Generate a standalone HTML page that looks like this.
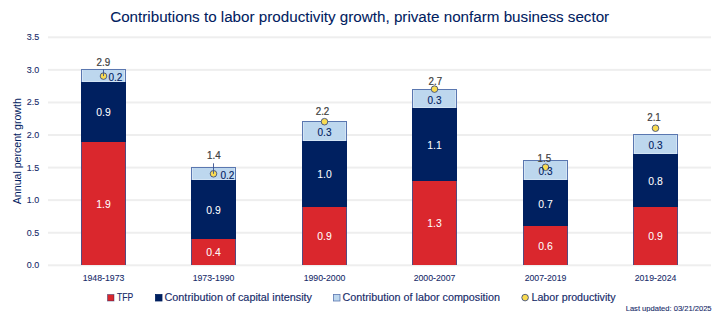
<!DOCTYPE html><html><head><meta charset="utf-8"><style>html,body{margin:0;padding:0;background:#fff;width:720px;height:312px;overflow:hidden}svg{display:block}text{font-family:"Liberation Sans",sans-serif}</style></head><body>
<svg width="720" height="312" viewBox="0 0 720 312">
<rect width="720" height="312" fill="#fff"/>
<text x="110.20" y="21.80" font-size="15.5" fill="#002060" textLength="499" lengthAdjust="spacingAndGlyphs" stroke="#002060" stroke-width="0.08">Contributions to labor productivity growth, private nonfarm business sector</text>
<rect x="48" y="264.30" width="663" height="2" fill="#EEEEEE"/>
<text x="39.20" y="268.30" font-size="9.5" fill="#172C6A" text-anchor="end" textLength="12.4" lengthAdjust="spacingAndGlyphs" stroke="#172C6A" stroke-width="0.1">0.0</text>
<rect x="48" y="231.73" width="663" height="2" fill="#EEEEEE"/>
<text x="39.20" y="235.73" font-size="9.5" fill="#172C6A" text-anchor="end" textLength="12.4" lengthAdjust="spacingAndGlyphs" stroke="#172C6A" stroke-width="0.1">0.5</text>
<rect x="48" y="199.16" width="663" height="2" fill="#EEEEEE"/>
<text x="39.20" y="203.16" font-size="9.5" fill="#172C6A" text-anchor="end" textLength="12.4" lengthAdjust="spacingAndGlyphs" stroke="#172C6A" stroke-width="0.1">1.0</text>
<rect x="48" y="166.59" width="663" height="2" fill="#EEEEEE"/>
<text x="39.20" y="170.59" font-size="9.5" fill="#172C6A" text-anchor="end" textLength="12.4" lengthAdjust="spacingAndGlyphs" stroke="#172C6A" stroke-width="0.1">1.5</text>
<rect x="48" y="134.02" width="663" height="2" fill="#EEEEEE"/>
<text x="39.20" y="138.02" font-size="9.5" fill="#172C6A" text-anchor="end" textLength="12.4" lengthAdjust="spacingAndGlyphs" stroke="#172C6A" stroke-width="0.1">2.0</text>
<rect x="48" y="101.45" width="663" height="2" fill="#EEEEEE"/>
<text x="39.20" y="105.45" font-size="9.5" fill="#172C6A" text-anchor="end" textLength="12.4" lengthAdjust="spacingAndGlyphs" stroke="#172C6A" stroke-width="0.1">2.5</text>
<rect x="48" y="68.88" width="663" height="2" fill="#EEEEEE"/>
<text x="39.20" y="72.88" font-size="9.5" fill="#172C6A" text-anchor="end" textLength="12.4" lengthAdjust="spacingAndGlyphs" stroke="#172C6A" stroke-width="0.1">3.0</text>
<rect x="48" y="36.31" width="663" height="2" fill="#EEEEEE"/>
<text x="39.20" y="40.31" font-size="9.5" fill="#172C6A" text-anchor="end" textLength="12.4" lengthAdjust="spacingAndGlyphs" stroke="#172C6A" stroke-width="0.1">3.5</text>
<text transform="translate(20.8 151.2) rotate(-90)" font-size="10" fill="#002060" text-anchor="middle" textLength="106" lengthAdjust="spacingAndGlyphs">Annual percent growth</text>
<rect x="81" y="142" width="45" height="123" fill="#DA272D"/>
<rect x="81" y="142" width="1" height="123" fill="#564A7E"/>
<rect x="125" y="142" width="1" height="123" fill="#564A7E"/>
<rect x="81" y="82" width="45" height="60" fill="#002060"/>
<rect x="81" y="69" width="45" height="13" fill="#BDD7EE"/>
<rect x="82" y="70" width="1" height="12" fill="#D3E4F4"/>
<rect x="124" y="70" width="1" height="12" fill="#D3E4F4"/>
<rect x="82" y="81" width="43" height="1" fill="#D3E4F4"/>
<rect x="81" y="69" width="45" height="1" fill="#5A77B0"/>
<rect x="81" y="69" width="1" height="13" fill="#5A77B0"/>
<rect x="125" y="69" width="1" height="13" fill="#5A77B0"/>
<text x="103.50" y="280.60" font-size="9.9" fill="#172C6A" text-anchor="middle" textLength="41.7" lengthAdjust="spacingAndGlyphs" stroke="#172C6A" stroke-width="0.1">1948-1973</text>
<rect x="191" y="239" width="45" height="26" fill="#DA272D"/>
<rect x="191" y="239" width="1" height="26" fill="#564A7E"/>
<rect x="235" y="239" width="1" height="26" fill="#564A7E"/>
<rect x="191" y="180" width="45" height="59" fill="#002060"/>
<rect x="191" y="167" width="45" height="13" fill="#BDD7EE"/>
<rect x="192" y="168" width="1" height="12" fill="#D3E4F4"/>
<rect x="234" y="168" width="1" height="12" fill="#D3E4F4"/>
<rect x="192" y="179" width="43" height="1" fill="#D3E4F4"/>
<rect x="191" y="167" width="45" height="1" fill="#5A77B0"/>
<rect x="191" y="167" width="1" height="13" fill="#5A77B0"/>
<rect x="235" y="167" width="1" height="13" fill="#5A77B0"/>
<text x="213.50" y="280.60" font-size="9.9" fill="#172C6A" text-anchor="middle" textLength="41.7" lengthAdjust="spacingAndGlyphs" stroke="#172C6A" stroke-width="0.1">1973-1990</text>
<rect x="302" y="207" width="45" height="58" fill="#DA272D"/>
<rect x="302" y="207" width="1" height="58" fill="#564A7E"/>
<rect x="346" y="207" width="1" height="58" fill="#564A7E"/>
<rect x="302" y="141" width="45" height="66" fill="#002060"/>
<rect x="302" y="121" width="45" height="20" fill="#BDD7EE"/>
<rect x="303" y="122" width="1" height="19" fill="#D3E4F4"/>
<rect x="345" y="122" width="1" height="19" fill="#D3E4F4"/>
<rect x="303" y="140" width="43" height="1" fill="#D3E4F4"/>
<rect x="302" y="121" width="45" height="1" fill="#5A77B0"/>
<rect x="302" y="121" width="1" height="20" fill="#5A77B0"/>
<rect x="346" y="121" width="1" height="20" fill="#5A77B0"/>
<text x="324.50" y="280.60" font-size="9.9" fill="#172C6A" text-anchor="middle" textLength="41.7" lengthAdjust="spacingAndGlyphs" stroke="#172C6A" stroke-width="0.1">1990-2000</text>
<rect x="412" y="181" width="45" height="84" fill="#DA272D"/>
<rect x="412" y="181" width="1" height="84" fill="#564A7E"/>
<rect x="456" y="181" width="1" height="84" fill="#564A7E"/>
<rect x="412" y="108" width="45" height="73" fill="#002060"/>
<rect x="412" y="89" width="45" height="19" fill="#BDD7EE"/>
<rect x="413" y="90" width="1" height="18" fill="#D3E4F4"/>
<rect x="455" y="90" width="1" height="18" fill="#D3E4F4"/>
<rect x="413" y="107" width="43" height="1" fill="#D3E4F4"/>
<rect x="412" y="89" width="45" height="1" fill="#5A77B0"/>
<rect x="412" y="89" width="1" height="19" fill="#5A77B0"/>
<rect x="456" y="89" width="1" height="19" fill="#5A77B0"/>
<text x="434.50" y="280.60" font-size="9.9" fill="#172C6A" text-anchor="middle" textLength="41.7" lengthAdjust="spacingAndGlyphs" stroke="#172C6A" stroke-width="0.1">2000-2007</text>
<rect x="523" y="226" width="45" height="39" fill="#DA272D"/>
<rect x="523" y="226" width="1" height="39" fill="#564A7E"/>
<rect x="567" y="226" width="1" height="39" fill="#564A7E"/>
<rect x="523" y="180" width="45" height="46" fill="#002060"/>
<rect x="523" y="160" width="45" height="20" fill="#BDD7EE"/>
<rect x="524" y="161" width="1" height="19" fill="#D3E4F4"/>
<rect x="566" y="161" width="1" height="19" fill="#D3E4F4"/>
<rect x="524" y="179" width="43" height="1" fill="#D3E4F4"/>
<rect x="523" y="160" width="45" height="1" fill="#5A77B0"/>
<rect x="523" y="160" width="1" height="20" fill="#5A77B0"/>
<rect x="567" y="160" width="1" height="20" fill="#5A77B0"/>
<text x="545.50" y="280.60" font-size="9.9" fill="#172C6A" text-anchor="middle" textLength="41.7" lengthAdjust="spacingAndGlyphs" stroke="#172C6A" stroke-width="0.1">2007-2019</text>
<rect x="633" y="207" width="45" height="58" fill="#DA272D"/>
<rect x="633" y="207" width="1" height="58" fill="#564A7E"/>
<rect x="677" y="207" width="1" height="58" fill="#564A7E"/>
<rect x="633" y="154" width="45" height="53" fill="#002060"/>
<rect x="633" y="134" width="45" height="20" fill="#BDD7EE"/>
<rect x="634" y="135" width="1" height="19" fill="#D3E4F4"/>
<rect x="676" y="135" width="1" height="19" fill="#D3E4F4"/>
<rect x="634" y="153" width="43" height="1" fill="#D3E4F4"/>
<rect x="633" y="134" width="45" height="1" fill="#5A77B0"/>
<rect x="633" y="134" width="1" height="20" fill="#5A77B0"/>
<rect x="677" y="134" width="1" height="20" fill="#5A77B0"/>
<text x="655.50" y="280.60" font-size="9.9" fill="#172C6A" text-anchor="middle" textLength="41.7" lengthAdjust="spacingAndGlyphs" stroke="#172C6A" stroke-width="0.1">2019-2024</text>
<text x="103.50" y="207.52" font-size="10.5" fill="#fff" text-anchor="middle" textLength="14.5" lengthAdjust="spacingAndGlyphs" stroke="#fff" stroke-width="0.05">1.9</text>
<text x="103.50" y="116.32" font-size="10.5" fill="#fff" text-anchor="middle" textLength="14.5" lengthAdjust="spacingAndGlyphs" stroke="#fff" stroke-width="0.05">0.9</text>
<text x="213.50" y="256.37" font-size="10.5" fill="#fff" text-anchor="middle" textLength="14.5" lengthAdjust="spacingAndGlyphs" stroke="#fff" stroke-width="0.05">0.4</text>
<text x="213.50" y="214.03" font-size="10.5" fill="#fff" text-anchor="middle" textLength="14.5" lengthAdjust="spacingAndGlyphs" stroke="#fff" stroke-width="0.05">0.9</text>
<text x="324.50" y="240.09" font-size="10.5" fill="#fff" text-anchor="middle" textLength="14.5" lengthAdjust="spacingAndGlyphs" stroke="#fff" stroke-width="0.05">0.9</text>
<text x="324.50" y="178.20" font-size="10.5" fill="#fff" text-anchor="middle" textLength="14.5" lengthAdjust="spacingAndGlyphs" stroke="#fff" stroke-width="0.05">1.0</text>
<text x="434.50" y="227.06" font-size="10.5" fill="#fff" text-anchor="middle" textLength="14.5" lengthAdjust="spacingAndGlyphs" stroke="#fff" stroke-width="0.05">1.3</text>
<text x="434.50" y="148.89" font-size="10.5" fill="#fff" text-anchor="middle" textLength="14.5" lengthAdjust="spacingAndGlyphs" stroke="#fff" stroke-width="0.05">1.1</text>
<text x="545.50" y="249.86" font-size="10.5" fill="#fff" text-anchor="middle" textLength="14.5" lengthAdjust="spacingAndGlyphs" stroke="#fff" stroke-width="0.05">0.6</text>
<text x="545.50" y="207.52" font-size="10.5" fill="#fff" text-anchor="middle" textLength="14.5" lengthAdjust="spacingAndGlyphs" stroke="#fff" stroke-width="0.05">0.7</text>
<text x="655.50" y="240.09" font-size="10.5" fill="#fff" text-anchor="middle" textLength="14.5" lengthAdjust="spacingAndGlyphs" stroke="#fff" stroke-width="0.05">0.9</text>
<text x="655.50" y="184.72" font-size="10.5" fill="#fff" text-anchor="middle" textLength="14.5" lengthAdjust="spacingAndGlyphs" stroke="#fff" stroke-width="0.05">0.8</text>
<circle cx="103.50" cy="76.09" r="3.3" fill="#F9DB52" stroke="#2B3F78" stroke-width="0.8"/>
<line x1="103.50" x2="103.50" y1="69.5" y2="76.09" stroke="#3A5290" stroke-width="0.9"/>
<circle cx="213.50" cy="173.80" r="3.3" fill="#F9DB52" stroke="#2B3F78" stroke-width="0.8"/>
<line x1="213.50" x2="213.50" y1="163.3" y2="173.80" stroke="#3A5290" stroke-width="0.9"/>
<circle cx="324.50" cy="121.69" r="3.3" fill="#F9DB52" stroke="#2B3F78" stroke-width="0.8"/>
<circle cx="434.50" cy="89.12" r="3.3" fill="#F9DB52" stroke="#2B3F78" stroke-width="0.8"/>
<circle cx="545.50" cy="167.29" r="3.3" fill="#F9DB52" stroke="#2B3F78" stroke-width="0.8"/>
<circle cx="655.50" cy="128.21" r="3.3" fill="#F9DB52" stroke="#2B3F78" stroke-width="0.8"/>
<text x="115.40" y="80.99" font-size="10.5" fill="#002060" text-anchor="middle" textLength="14" lengthAdjust="spacingAndGlyphs" stroke="#002060" stroke-width="0.1">0.2</text>
<text x="227.40" y="178.70" font-size="10.5" fill="#002060" text-anchor="middle" textLength="14" lengthAdjust="spacingAndGlyphs" stroke="#002060" stroke-width="0.1">0.2</text>
<text x="324.50" y="136.36" font-size="10.5" fill="#002060" text-anchor="middle" textLength="14" lengthAdjust="spacingAndGlyphs" stroke="#002060" stroke-width="0.1">0.3</text>
<text x="434.50" y="103.79" font-size="10.5" fill="#002060" text-anchor="middle" textLength="14" lengthAdjust="spacingAndGlyphs" stroke="#002060" stroke-width="0.1">0.3</text>
<text x="545.50" y="175.45" font-size="10.5" fill="#002060" text-anchor="middle" textLength="14" lengthAdjust="spacingAndGlyphs" stroke="#002060" stroke-width="0.1">0.3</text>
<text x="655.50" y="149.39" font-size="10.5" fill="#002060" text-anchor="middle" textLength="14" lengthAdjust="spacingAndGlyphs" stroke="#002060" stroke-width="0.1">0.3</text>
<text x="103.30" y="65.70" font-size="10" fill="#404040" text-anchor="middle" textLength="13.6" lengthAdjust="spacingAndGlyphs" stroke="#404040" stroke-width="0.2">2.9</text>
<text x="213.85" y="159.00" font-size="10" fill="#404040" text-anchor="middle" textLength="13.6" lengthAdjust="spacingAndGlyphs" stroke="#404040" stroke-width="0.2">1.4</text>
<text x="322.50" y="115.30" font-size="10" fill="#404040" text-anchor="middle" textLength="13.6" lengthAdjust="spacingAndGlyphs" stroke="#404040" stroke-width="0.2">2.2</text>
<text x="435.40" y="85.20" font-size="10" fill="#404040" text-anchor="middle" textLength="13.6" lengthAdjust="spacingAndGlyphs" stroke="#404040" stroke-width="0.2">2.7</text>
<text x="544.30" y="161.60" font-size="10" fill="#404040" text-anchor="middle" textLength="13.6" lengthAdjust="spacingAndGlyphs" stroke="#404040" stroke-width="0.2">1.5</text>
<text x="654.00" y="120.80" font-size="10" fill="#404040" text-anchor="middle" textLength="13.6" lengthAdjust="spacingAndGlyphs" stroke="#404040" stroke-width="0.2">2.1</text>
<rect x="107.5" y="294.5" width="6.5" height="6.5" fill="#DA272D" stroke="#002060" stroke-opacity="0.5" stroke-width="0.8"/>
<text x="117.10" y="300.80" font-size="10" fill="#172C6A" textLength="16.2" lengthAdjust="spacingAndGlyphs" stroke="#172C6A" stroke-width="0.15">TFP</text>
<rect x="155.5" y="294.5" width="6.5" height="6.5" fill="#002060" stroke="#002060" stroke-width="0.8"/>
<text x="164.50" y="300.80" font-size="10" fill="#172C6A" textLength="147.5" lengthAdjust="spacingAndGlyphs" stroke="#172C6A" stroke-width="0.15">Contribution of capital intensity</text>
<rect x="333.5" y="294.5" width="6.5" height="6.5" fill="#BDD7EE" stroke="#5A77B0" stroke-width="0.8"/>
<text x="342.50" y="300.80" font-size="10" fill="#172C6A" textLength="157.5" lengthAdjust="spacingAndGlyphs" stroke="#172C6A" stroke-width="0.15">Contribution of labor composition</text>
<circle cx="525.1" cy="297.6" r="3.3" fill="#F9DB52" stroke="#2B3F78" stroke-width="0.8"/>
<text x="531.50" y="300.80" font-size="10" fill="#172C6A" textLength="84.1" lengthAdjust="spacingAndGlyphs" stroke="#172C6A" stroke-width="0.15">Labor productivity</text>
<text x="625.70" y="311.30" font-size="7.5" fill="#172C6A" textLength="85.9" lengthAdjust="spacingAndGlyphs" stroke="#172C6A" stroke-width="0.1">Last updated: 03/21/2025</text>
</svg></body></html>
